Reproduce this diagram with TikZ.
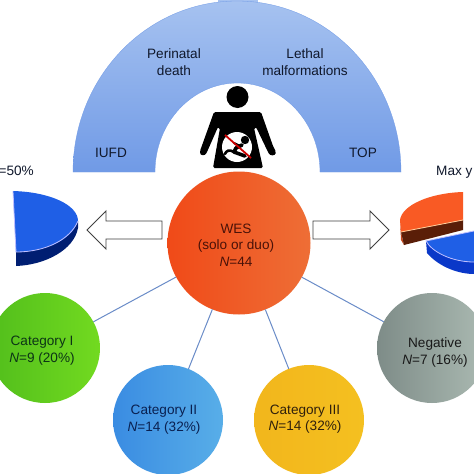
\documentclass[tikz,border=0pt]{standalone}
\usepackage{fontspec}
\setmainfont{Liberation Sans}
\definecolor{txt}{HTML}{10182C}
\definecolor{linkc}{HTML}{6A8CC8}
\definecolor{archtop}{HTML}{A6C2F0}
\definecolor{archbot}{HTML}{709AE6}
\definecolor{wesl}{HTML}{F04A18}
\definecolor{wesr}{HTML}{EE6E36}
\definecolor{c1l}{HTML}{52BE1C}
\definecolor{c1r}{HTML}{72DA20}
\definecolor{c2l}{HTML}{3A8CE2}
\definecolor{c2r}{HTML}{58AEE8}
\definecolor{c3l}{HTML}{F2B61C}
\definecolor{c3r}{HTML}{F4C020}
\definecolor{c4l}{HTML}{7E8C88}
\definecolor{c4r}{HTML}{ABBAB2}
\definecolor{bluetop}{HTML}{1F5FE6}
\definecolor{leftdark}{HTML}{001E72}
\definecolor{bluedark}{HTML}{0A38C8}
\definecolor{rightdark}{HTML}{5A1E08}
\definecolor{orangep}{HTML}{F95A24}
\definecolor{t1}{HTML}{4A1208}
\definecolor{t2}{HTML}{0C3416}
\definecolor{t3}{HTML}{0A2050}
\definecolor{t4}{HTML}{30200C}
\tikzset{
  x=1pt,y=-1pt,
  bubble/.style={circle,draw=none,inner sep=0pt,outer sep=0pt,minimum size=110pt},
  lbl/.style={align=center,inner sep=0pt,text=txt,font=\fontsize{13.6}{16.6}\selectfont},
  link/.style={draw=linkc,line width=1pt},
  bigarrow/.style={draw=black!75,line width=0.9pt,fill=white,line join=miter},
  edge/.style={draw=white!75!blue,line width=0.8pt}
}
\begin{document}
\begin{tikzpicture}
\useasboundingbox (0,0) rectangle (474,474);
\clip (0,0) rectangle (474,474);
\fill[white] (0,0) rectangle (474,474);
% arch
\fill[archtop] (218,3) -- (218,0) -- (258,0) -- (258,3) -- cycle;
\path[top color=archtop,bottom color=archbot,draw=archbot,line width=0.3pt]
  (73,172) arc[x radius=164,y radius=171,start angle=180,end angle=360]
  -- (320,172) arc[x radius=82.5,y radius=89,start angle=0,end angle=-180] -- cycle;
\node[lbl] (perinatal) at (174,62) {Perinatal\\death};
\node[lbl] (lethal) at (305,62) {Lethal\\malformations};
\node[lbl] (iufd) at (111,153) {IUFD};
\node[lbl] (top) at (363,153) {TOP};
% figure
\fill[black] (237.5,97) circle[radius=11];
\fill[black,rounded corners=1.5pt] (214,112) -- (261,112) -- (273,146) -- (276,152)
  .. controls (275,156) and (270,156) .. (268,152) -- (256,127) -- (254,128) -- (263,168) -- (213,168) -- (220,128) -- (218,127)
  -- (207,152) .. controls (205,156) and (200,156) .. (200,151) -- cycle;
\fill[white] (237,147) circle[radius=15];
\fill[black] (245,140) circle[radius=4.2];
\draw[black,line width=3.6pt,line cap=round,line join=round] (242,145) -- (236,148) -- (234,152) -- (245,156);
\draw[black,line width=2.6pt,line cap=round] (234,152) .. controls (229,149) and (226,151) .. (225,154);
\draw[black,line width=2.2pt,line cap=round] (240,146) -- (234,143);
\draw[red!80!black,line width=1.8pt] (225,135) -- (251,158);
% circles
\node[bubble,minimum size=143pt,left color=wesl,right color=wesr] (wes) at (239,243) {};
\node[bubble,left color=c1l,right color=c1r] (c1) at (45,348) {};
\node[bubble,left color=c2l,right color=c2r] (c2) at (168,420) {};
\node[bubble,left color=c3l,right color=c3r] (c3) at (309,420) {};
\node[bubble,left color=c4l,right color=c4r] (c4) at (432,348) {};
\draw[link] (wes) -- (c1);
\draw[link] (wes) -- (c2);
\draw[link] (wes) -- (c3);
\draw[link] (wes) -- (c4);
\node[lbl,text=t1] (west) at (236,245) {WES\\(solo or duo)\\\textit{N}=44};
\node[lbl,text=t2] (c1t) at (42,350.5) {Category I\\\textit{N}=9 (20\%)};
\node[lbl,text=t3] (c2t) at (164,419.5) {Category II\\\textit{N}=14 (32\%)};
\node[lbl,text=t4] (c3t) at (305,419) {Category III\\\textit{N}=14 (32\%)};
\node[lbl,text=black!90] (c4t) at (435,352.5) {Negative\\\textit{N}=7 (16\%)};
% arrows
\draw[bigarrow] (162,221) -- (106,221) -- (106,211) -- (87,230) -- (106,249) -- (106,239) -- (162,239) -- cycle;
\draw[bigarrow] (313,221) -- (370,221) -- (370,211) -- (389,230) -- (370,249) -- (370,239) -- (313,239) -- cycle;
% left pie
\fill[leftdark] (16,252) .. controls (45,252) and (70,240) .. (78,221) -- (78,228)
  .. controls (74,250) and (45,265) .. (16,266) -- cycle;
\fill[bluetop] (13,191) .. controls (50,192) and (78,205) .. (78,221)
  .. controls (72,240) and (45,252) .. (16,252) -- cycle;
\draw[edge] (13,191) -- (16,252) .. controls (45,252) and (70,240) .. (78,221);
\node[inner sep=0pt,text=txt,font=\fontsize{13.6}{16}\selectfont,anchor=east] (leftpct) at (34,171) {=50\%};
% right pies
\fill[orangep!80!black] (400,220) -- (401,232) -- (404,245) -- (401,240) -- cycle;
\fill[rightdark] (401,232) -- (463,220) -- (463,230) -- (404,245) -- cycle;
\fill[orangep] (400,220) .. controls (402,205) and (430,193) .. (463,192) -- (463,220) -- (401,232) -- cycle;
\draw[line width=0.8pt,draw=orange!40!white] (401,232) -- (463,220);
\fill[bluedark] (426,241) -- (427,253) .. controls (440,268) and (460,274) .. (474,274) -- (474,262)
  .. controls (452,262) and (432,252) .. (426,241) -- cycle;
\fill[bluetop] (426,241) -- (474,231) -- (474,262) .. controls (452,262) and (432,252) .. (426,241) -- cycle;
\draw[edge] (474,231) -- (426,241) .. controls (432,252) and (452,262) .. (474,262);
\node[inner sep=0pt,text=txt,font=\fontsize{13.6}{16}\selectfont,anchor=west] (rightttl) at (436,172.5) {Max y};
\end{tikzpicture}
\end{document}
